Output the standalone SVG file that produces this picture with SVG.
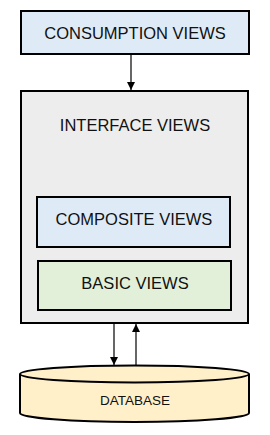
<svg xmlns="http://www.w3.org/2000/svg" width="270" height="435" viewBox="0 0 270 435">
<defs>
<style>
.box{stroke:#000;stroke-width:2}
.t{font-family:"Liberation Sans",Arial,sans-serif;font-size:16.5px;fill:#111;text-anchor:middle;dominant-baseline:central}
.c{stroke:#000;stroke-width:1.2;fill:none}
</style>
<marker id="ah" viewBox="0 0 10 10" refX="10" refY="5" markerWidth="8" markerHeight="8" markerUnits="userSpaceOnUse" orient="auto">
<path d="M0,0 L10,5 L0,10 z" fill="#000"/>
</marker>
</defs>
<rect width="270" height="435" fill="#fff"/>
<g id="consumption">
<rect class="box" x="21" y="11" width="228" height="43" fill="#DEEBF7"/>
<text class="t" x="135" y="33">CONSUMPTION VIEWS</text>
</g>
<g id="interface">
<rect class="box" x="21" y="91" width="227" height="232" fill="#EDEDED"/>
<text class="t" x="135" y="125">INTERFACE VIEWS</text>
</g>
<g id="composite">
<rect class="box" x="37" y="197" width="193" height="50" fill="#DEEBF7"/>
<text class="t" x="134" y="219">COMPOSITE VIEWS</text>
</g>
<g id="basic">
<rect class="box" x="38" y="261" width="193" height="49" fill="#E2F0D9"/>
<text class="t" x="135" y="283">BASIC VIEWS</text>
</g>
<g id="database">
<path class="box" d="M20,374 L20,413 A114.5,9 0 0 0 249,413 L249,374" fill="#FFF0C9"/>
<ellipse class="box" cx="134.5" cy="374" rx="114.5" ry="8.5" fill="#FFF0C9"/>
<text class="t" x="135" y="400" style="font-size:13.5px">DATABASE</text>
</g>
<g id="connectors">
<line class="c" x1="131" y1="55" x2="131" y2="90" marker-end="url(#ah)"/>
<line class="c" x1="114" y1="324" x2="114" y2="365" marker-end="url(#ah)"/>
<line class="c" x1="136" y1="365" x2="136" y2="324" marker-end="url(#ah)"/>
</g>
</svg>
